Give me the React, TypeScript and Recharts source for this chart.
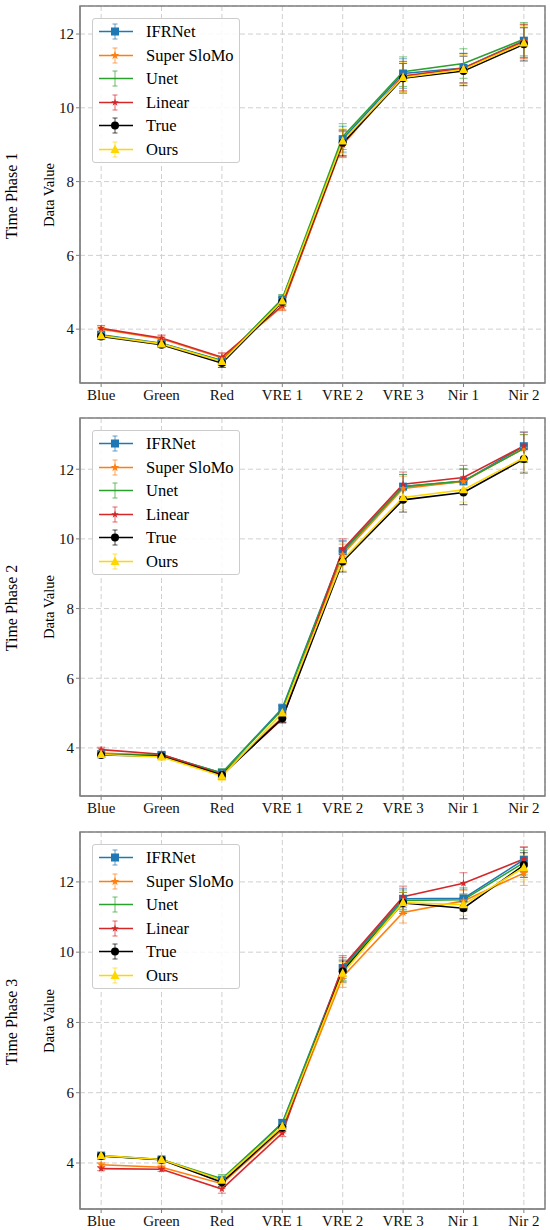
import React from "react";
import {
  LineChart,
  Line,
  XAxis,
  YAxis,
  CartesianGrid,
  ErrorBar,
  ReferenceArea,
} from "recharts";

const bands = ["Blue", "Green", "Red", "VRE 1", "VRE 2", "VRE 3", "Nir 1", "Nir 2"];
const yTicks = [4, 6, 8, 10, 12];

// Time phase 1
const ifrnet1 = [3.85, 3.62, 3.15, 4.8, 9.15, 10.93, 11.08, 11.82];
const slomo1 = [4.0, 3.74, 3.22, 4.62, 9.0, 10.85, 11.07, 11.8];
const unet1 = [3.83, 3.6, 3.14, 4.82, 9.22, 10.98, 11.2, 11.86];
const linear1 = [4.02, 3.76, 3.24, 4.64, 9.02, 10.86, 11.07, 11.8];
const true1 = [3.8, 3.58, 3.08, 4.74, 9.05, 10.8, 11.0, 11.72];
const ours1 = [3.82, 3.6, 3.12, 4.76, 9.1, 10.82, 11.04, 11.76];
const err1 = [0.08, 0.08, 0.12, 0.12, 0.35, 0.4, 0.4, 0.45];

// Time phase 2
const ifrnet2 = [3.82, 3.8, 3.28, 5.14, 9.65, 11.5, 11.65, 12.66];
const slomo2 = [3.85, 3.78, 3.26, 4.88, 9.55, 11.45, 11.65, 12.6];
const unet2 = [3.82, 3.79, 3.28, 5.1, 9.62, 11.5, 11.66, 12.59];
const linear2 = [3.95, 3.82, 3.24, 4.83, 9.7, 11.57, 11.76, 12.67];
const true2 = [3.8, 3.76, 3.22, 4.85, 9.35, 11.12, 11.33, 12.29];
const ours2 = [3.81, 3.74, 3.19, 5.0, 9.4, 11.19, 11.41, 12.33];
const err2 = [0.07, 0.07, 0.12, 0.12, 0.3, 0.35, 0.35, 0.4];

// Time phase 3
const ifrnet3 = [4.21, 4.1, 3.51, 5.14, 9.55, 11.52, 11.53, 12.63];
const slomo3 = [3.95, 3.88, 3.41, 4.95, 9.3, 11.13, 11.46, 12.25];
const unet3 = [4.2, 4.1, 3.55, 5.12, 9.5, 11.47, 11.49, 12.55];
const linear3 = [3.84, 3.82, 3.26, 4.85, 9.6, 11.58, 11.96, 12.65];
const true3 = [4.2, 4.09, 3.45, 5.0, 9.45, 11.4, 11.25, 12.48];
const ours3 = [4.21, 4.1, 3.51, 5.04, 9.4, 11.41, 11.35, 12.41];
const err3 = [0.06, 0.06, 0.12, 0.1, 0.3, 0.3, 0.3, 0.35];

const FONT = '"Liberation Serif", "Times New Roman", serif';

type Shape = "square" | "star" | "none" | "smallstar" | "circle" | "triangle";

const SERIES: { key: string; name: string; color: string; shape: Shape }[] = [
  { key: "ifrnet", name: "IFRNet", color: "#1f77b4", shape: "square" },
  { key: "slomo", name: "Super SloMo", color: "#ff7f0e", shape: "star" },
  { key: "unet", name: "Unet", color: "#2ca02c", shape: "none" },
  { key: "linear", name: "Linear", color: "#d62728", shape: "smallstar" },
  { key: "true", name: "True", color: "#000000", shape: "circle" },
  { key: "ours", name: "Ours", color: "#ffd700", shape: "triangle" },
];

const PANELS = [
  {
    title: "Time Phase 1",
    top: 0,
    height: 413,
    domain: [2.54, 12.76],
    values: [ifrnet1, slomo1, unet1, linear1, true1, ours1],
    err: err1,
  },
  {
    title: "Time Phase 2",
    top: 412,
    height: 414,
    domain: [2.62, 13.47],
    values: [ifrnet2, slomo2, unet2, linear2, true2, ours2],
    err: err2,
  },
  {
    title: "Time Phase 3",
    top: 826,
    height: 413,
    domain: [2.69, 13.42],
    values: [ifrnet3, slomo3, unet3, linear3, true3, ours3],
    err: err3,
  },
];

function starPoints(cx: number, cy: number, ro: number, ri: number) {
  const pts: string[] = [];
  for (let i = 0; i < 10; i++) {
    const r = i % 2 === 0 ? ro : ri;
    const a = -Math.PI / 2 + (i * Math.PI) / 5;
    pts.push(`${cx + r * Math.cos(a)},${cy + r * Math.sin(a)}`);
  }
  return pts.join(" ");
}

function Marker({ shape, color, cx, cy }: { shape: Shape; color: string; cx: number; cy: number }) {
  switch (shape) {
    case "square":
      return <rect x={cx - 4} y={cy - 4} width={8} height={8} fill={color} />;
    case "star":
      return <polygon points={starPoints(cx, cy, 4.5, 1.8)} fill={color} />;
    case "smallstar":
      return <polygon points={starPoints(cx, cy, 4, 1.6)} fill={color} />;
    case "circle":
      return <circle cx={cx} cy={cy} r={4} fill={color} />;
    case "triangle":
      return (
        <polygon
          points={`${cx},${cy - 5} ${cx - 4.5},${cy + 3.5} ${cx + 4.5},${cy + 3.5}`}
          fill={color}
        />
      );
    default:
      return <g />;
  }
}

function LegendBox() {
  return (
    <div
      style={{
        position: "absolute",
        left: 12,
        top: 12,
        width: 148,
        height: 145,
        boxSizing: "border-box",
        border: "1px solid #cccccc",
        borderRadius: 3,
        background: "rgba(255,255,255,0.85)",
        fontFamily: FONT,
        fontSize: 16.5,
        color: "#000",
      }}
    >
      {SERIES.map((s, i) => (
        <div
          key={s.key}
          style={{ position: "absolute", left: 0, top: 1 + i * 23.6, height: 23, display: "flex", alignItems: "center" }}
        >
          <svg width={50} height={23} style={{ display: "block" }}>
            <line x1={6} x2={40} y1={11.5} y2={11.5} stroke={s.color} strokeWidth={1.5} />
            <line x1={22} x2={22} y1={4} y2={19} stroke={s.color} strokeOpacity={0.7} strokeWidth={1} />
            <line x1={19.5} x2={24.5} y1={4} y2={4} stroke={s.color} strokeOpacity={0.7} strokeWidth={1} />
            <line x1={19.5} x2={24.5} y1={19} y2={19} stroke={s.color} strokeOpacity={0.7} strokeWidth={1} />
            <Marker shape={s.shape} color={s.color} cx={22} cy={11.5} />
          </svg>
          <span style={{ marginLeft: 3, lineHeight: "23px" }}>{s.name}</span>
        </div>
      ))}
    </div>
  );
}

function Panel({ panel }: { panel: (typeof PANELS)[number] }) {
  const data = bands.map((band, i) => {
    const row: Record<string, number | string> = { x: i, band };
    SERIES.forEach((s, j) => {
      row[s.key] = panel.values[j][i];
      row[s.key + "Err"] = panel.err[i];
    });
    return row;
  });
  const plotTop = panel.top + 6;
  const plotBottom = panel.top + panel.height - 30;
  const mid = (plotTop + plotBottom) / 2;

  return (
    <>
      <div
        style={{
          position: "absolute",
          left: 0,
          top: panel.top,
          width: 550,
          height: panel.height,
        }}
      >
        <LineChart
          width={550}
          height={panel.height}
          data={data}
          margin={{ top: 6, right: 5, bottom: 0, left: 0 }}
        >
          <CartesianGrid stroke="#cfcfcf" strokeDasharray="5 3" />
          <XAxis
            dataKey="x"
            type="number"
            domain={[-0.35, 7.35]}
            ticks={[0, 1, 2, 3, 4, 5, 6, 7]}
            tickFormatter={(v: number) => bands[v]}
            height={30}
            allowDataOverflow
            axisLine={{ stroke: "#808080" }}
            tickLine={{ stroke: "#808080" }}
            tickSize={4}
            tick={{ fontFamily: FONT, fontSize: 15, fill: "#111" }}
          />
          <YAxis
            type="number"
            domain={panel.domain}
            ticks={yTicks}
            width={80}
            allowDataOverflow
            axisLine={{ stroke: "#808080" }}
            tickLine={{ stroke: "#808080" }}
            tickSize={4}
            tick={{ fontFamily: FONT, fontSize: 15, fill: "#111" }}
          />
          <ReferenceArea
            x1={-0.35}
            x2={7.35}
            y1={panel.domain[0]}
            y2={panel.domain[1]}
            fill="none"
            stroke="#808080"
            strokeWidth={1.5}
            ifOverflow="visible"
          />
          {SERIES.map((s) => (
            <Line
              key={s.key}
              dataKey={s.key}
              name={s.name}
              stroke={s.color}
              strokeWidth={1.6}
              isAnimationActive={false}
              dot={(p: any) => (
                <Marker key={`${s.key}-${p.index}`} shape={s.shape} color={s.color} cx={p.cx} cy={p.cy} />
              )}
              activeDot={false}
            >
              <ErrorBar
                dataKey={s.key + "Err"}
                direction="y"
                width={4}
                stroke={s.color}
                strokeOpacity={0.6}
                strokeWidth={1}
                isAnimationActive={false}
              />
            </Line>
          ))}
        </LineChart>
        <div style={{ position: "absolute", left: 80, top: 6 }}>
          <LegendBox />
        </div>
      </div>
      <div
        style={{
          position: "absolute",
          left: 12,
          top: mid + 1,
          transform: "translate(-50%, -50%) rotate(-90deg)",
          whiteSpace: "nowrap",
          fontFamily: FONT,
          fontSize: 16,
          color: "#000",
        }}
      >
        {panel.title}
      </div>
      <div
        style={{
          position: "absolute",
          left: 49,
          top: mid,
          transform: "translate(-50%, -50%) rotate(-90deg)",
          whiteSpace: "nowrap",
          fontFamily: FONT,
          fontSize: 14.5,
          color: "#000",
        }}
      >
        Data Value
      </div>
    </>
  );
}

export default function App() {
  return (
    <div
      style={{
        position: "absolute",
        left: 0,
        top: 0,
        width: 550,
        height: 1230,
        overflow: "hidden",
        background: "#fff",
        fontFamily: FONT,
      }}
    >
      <style>{`.recharts-wrapper svg text { font-family: ${FONT}; }`}</style>
      {PANELS.map((p) => (
        <Panel key={p.title} panel={p} />
      ))}
    </div>
  );
}
